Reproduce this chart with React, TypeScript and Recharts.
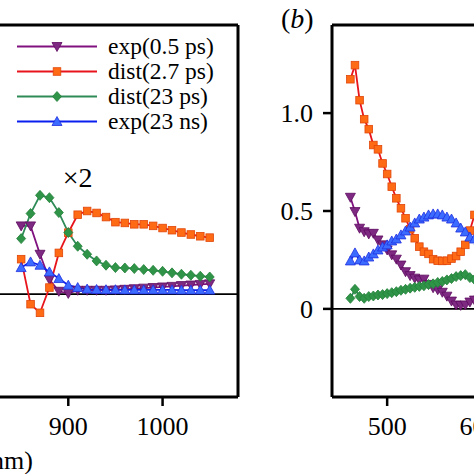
import React from 'react';
import { LineChart, Line, XAxis, YAxis, ReferenceLine, ReferenceDot, Legend } from 'recharts';

const FONT = '"Liberation Serif", "Times New Roman", serif';

// panel (a): wavelength grid and transient spectra
const leftNm = [850, 860, 870, 880, 890, 900, 910, 920, 930, 940, 950, 960, 970, 980, 990, 1000, 1010, 1020, 1030, 1040, 1050];
const leftExp05 = [0.349, 0.349, 0.204, 0.075, 0.015, 0.004, 0.02, 0.02, 0.02, 0.02, 0.022, 0.025, 0.028, 0.031, 0.034, 0.037, 0.04, 0.044, 0.047, 0.05, 0.053];
const leftDist27 = [0.179, -0.051, -0.095, 0.034, 0.211, 0.314, 0.406, 0.425, 0.415, 0.394, 0.368, 0.364, 0.357, 0.357, 0.349, 0.338, 0.327, 0.315, 0.305, 0.296, 0.289];
const leftDist23 = [0.284, 0.412, 0.505, 0.493, 0.417, 0.315, 0.245, 0.204, 0.17, 0.148, 0.136, 0.134, 0.131, 0.126, 0.122, 0.117, 0.109, 0.102, 0.097, 0.092, 0.088];
const leftExp23ns = [0.136, 0.165, 0.148, 0.114, 0.08, 0.046, 0.034, 0.026, 0.024, 0.023, 0.023, 0.022, 0.022, 0.022, 0.022, 0.022, 0.022, 0.021, 0.021, 0.021, 0.021];

// panel (b)
const rightNm = [460, 465, 470, 475, 480, 485, 490, 495, 500, 505, 510, 515, 520, 525, 530, 535, 540, 545, 550, 555, 560, 565, 570, 575, 580, 585, 590, 595, 600];
const rightExp05 = [0.57, 0.497, 0.412, 0.394, 0.383, 0.386, 0.352, 0.327, 0.301, 0.276, 0.254, 0.224, 0.19, 0.17, 0.157, 0.148, 0.152, 0.125, 0.108, 0.098, 0.085, 0.065, 0.04, 0.02, 0.018, 0.02, 0.035, 0.045, 0.05];
const rightDist27 = [1.173, 1.245, 1.066, 0.969, 0.918, 0.837, 0.815, 0.743, 0.689, 0.624, 0.565, 0.514, 0.463, 0.407, 0.361, 0.318, 0.292, 0.281, 0.254, 0.246, 0.245, 0.246, 0.257, 0.27, 0.292, 0.327, 0.4, 0.48, 0.56];
const rightDist23 = [0.054, 0.1, 0.063, 0.054, 0.063, 0.066, 0.071, 0.073, 0.078, 0.083, 0.088, 0.095, 0.1, 0.106, 0.11, 0.115, 0.118, 0.125, 0.128, 0.135, 0.14, 0.148, 0.155, 0.165, 0.17, 0.175, 0.16, 0.15, 0.145];
const rightExp23ns = [0.245, 0.286, 0.25, 0.245, 0.265, 0.281, 0.301, 0.316, 0.327, 0.347, 0.357, 0.378, 0.398, 0.418, 0.439, 0.459, 0.469, 0.48, 0.485, 0.485, 0.48, 0.469, 0.459, 0.439, 0.413, 0.393, 0.367, 0.357, 0.35];

const leftTicks = [800, 900, 1000];
const rightXTicks = [500, 600, 700];
const yTicks = [0, 0.5, 1.0];

const series = [
  { key: 'exp05', name: 'exp(0.5 ps)', line: '#80127F', fill: '#7E2A82', edge: '#5E0A60', shape: 'down' },
  { key: 'dist27', name: 'dist(2.7 ps)', line: '#E8141C', fill: '#FF6A14', edge: '#E0460A', shape: 'square' },
  { key: 'dist23', name: 'dist(23 ps)', line: '#2E8B57', fill: '#2F9447', edge: '#23803A', shape: 'diamond' },
  { key: 'exp23ns', name: 'exp(23 ns)', line: '#0A1EF0', fill: '#3C6CFF', edge: '#1F2FE0', shape: 'up' },
];

const leftData = leftNm.map((nm, i) => ({
  nm,
  exp05: leftExp05[i],
  dist27: leftDist27[i],
  dist23: leftDist23[i],
  exp23ns: leftExp23ns[i],
}));

const rightData = rightNm.map((nm, i) => ({
  nm,
  exp05: rightExp05[i],
  dist27: rightDist27[i],
  dist23: rightDist23[i],
  exp23ns: rightExp23ns[i],
}));

function Marker({ shape, cx, cy, fill, edge }: any) {
  if (cx == null || cy == null) return null;
  if (shape === 'square') {
    return <rect x={cx - 3.8} y={cy - 3.8} width={7.6} height={7.6} fill={fill} stroke={edge} strokeWidth={0.8} />;
  }
  if (shape === 'diamond') {
    return <polygon points={`${cx},${cy - 5} ${cx + 4.5},${cy} ${cx},${cy + 5} ${cx - 4.5},${cy}`} fill={fill} stroke={edge} strokeWidth={0.8} />;
  }
  if (shape === 'down') {
    return <polygon points={`${cx - 5},${cy - 4} ${cx + 5},${cy - 4} ${cx},${cy + 5}`} fill={fill} stroke={edge} strokeWidth={0.8} />;
  }
  return <polygon points={`${cx - 5},${cy + 4} ${cx + 5},${cy + 4} ${cx},${cy - 5}`} fill={fill} stroke={edge} strokeWidth={0.8} />;
}

const makeDot = (s: any) => (props: any) => (
  <g key={`${s.key}-${props.index}`}>
    <Marker shape={s.shape} cx={props.cx} cy={props.cy} fill={s.fill} edge={s.edge} />
  </g>
);

// legend keeps the series order of the original figure
const renderLegend = () => (
  <div style={{ fontFamily: FONT, fontSize: 23.5, color: '#000', whiteSpace: 'nowrap' }}>
    {series.map((s) => (
      <div key={s.key} style={{ display: 'flex', alignItems: 'center', height: 25 }}>
        <svg width={80} height={25}>
          <line x1={0} y1={12.5} x2={80} y2={12.5} stroke={s.line} strokeWidth={1.8} />
          <Marker shape={s.shape} cx={40} cy={12.5} fill={s.fill} edge={s.edge} />
        </svg>
        <span style={{ marginLeft: 11, lineHeight: '25px' }}>{s.name}</span>
      </div>
    ))}
  </div>
);

const AxisTitle = (props: any) => {
  const vb = props.viewBox || { x: 0, y: 0 };
  return (
    <text x={vb.x + 59} y={vb.y + 72} textAnchor="end" fontFamily={FONT} fontSize={26} fill="#000">
      Wavelength (nm)
    </text>
  );
};

const tickStyle = { fontFamily: FONT, fontSize: 26, fill: '#000' };
const axisLine = { stroke: '#000', strokeWidth: 3 };
const tickLine = { stroke: '#000', strokeWidth: 2.5 };

function lines() {
  return series.map((s) => (
    <Line
      key={s.key}
      type="linear"
      dataKey={s.key}
      name={s.name}
      stroke={s.line}
      strokeWidth={1.8}
      dot={makeDot(s)}
      activeDot={false}
      isAnimationActive={false}
    />
  ));
}

export default function App() {
  return (
    <div style={{ position: 'absolute', left: 0, top: 0, width: 474, height: 474, overflow: 'hidden', background: '#fff' }}>
      <div style={{ position: 'absolute', left: -60, top: 0 }}>
        <LineChart width={300} height={474} data={leftData} margin={{ top: 25, right: 2, bottom: 0, left: 0 }}>
          <XAxis
            dataKey="nm"
            type="number"
            domain={[800, 1080]}
            allowDataOverflow
            ticks={leftTicks}
            height={77}
            tickSize={9}
            tickMargin={11}
            tick={tickStyle}
            axisLine={axisLine}
            tickLine={tickLine}
            label={<AxisTitle />}
          />
          <YAxis
            type="number"
            domain={[-0.525, 1.375]}
            allowDataOverflow
            ticks={yTicks}
            width={34}
            tick={false}
            axisLine={axisLine}
            tickLine={tickLine}
          />
          <ReferenceLine y={1.375} stroke="#000" strokeWidth={3} ifOverflow="visible" />
          <ReferenceLine x={1080} stroke="#000" strokeWidth={3} ifOverflow="visible" />
          <ReferenceLine y={0} stroke="#000" strokeWidth={1.8} />
          <ReferenceDot
            x={910}
            y={0.6}
            r={0}
            fill="none"
            stroke="none"
            label={{ value: '×2', position: 'center', fontFamily: FONT, fontSize: 28, fill: '#000' }}
          />
          <Legend
            layout="vertical"
            align="center"
            verticalAlign="middle"
            content={renderLegend}
            wrapperStyle={{ left: 77, top: 33.5, width: 'auto', height: 'auto' }}
          />
          {lines()}
        </LineChart>
      </div>

      <div style={{ position: 'absolute', left: 260, top: 0 }}>
        <LineChart width={316} height={474} data={rightData} margin={{ top: 25, right: 5, bottom: 0, left: 0 }}>
          <XAxis
            dataKey="nm"
            type="number"
            domain={[440, 700]}
            allowDataOverflow
            ticks={rightXTicks}
            height={77}
            tickSize={9}
            tickMargin={11}
            tick={tickStyle}
            axisLine={axisLine}
            tickLine={tickLine}
          />
          <YAxis
            type="number"
            domain={[-0.45, 1.45]}
            allowDataOverflow
            ticks={yTicks}
            width={72}
            tickSize={9}
            tickMargin={10}
            tick={tickStyle}
            tickFormatter={(v: number) => (v === 0 ? '0' : v.toFixed(1))}
            axisLine={axisLine}
            tickLine={tickLine}
          />
          <ReferenceLine y={1.45} stroke="#000" strokeWidth={3} ifOverflow="visible" />
          <ReferenceLine y={0} stroke="#000" strokeWidth={1.8} />
          {lines()}
        </LineChart>
      </div>

      <svg width={474} height={40} style={{ position: 'absolute', left: 0, top: 0, pointerEvents: 'none' }}>
        <text x={281} y={28} fontFamily={FONT} fontSize={28} fill="#000">
          (<tspan fontStyle="italic">b</tspan>)
        </text>
      </svg>
    </div>
  );
}
